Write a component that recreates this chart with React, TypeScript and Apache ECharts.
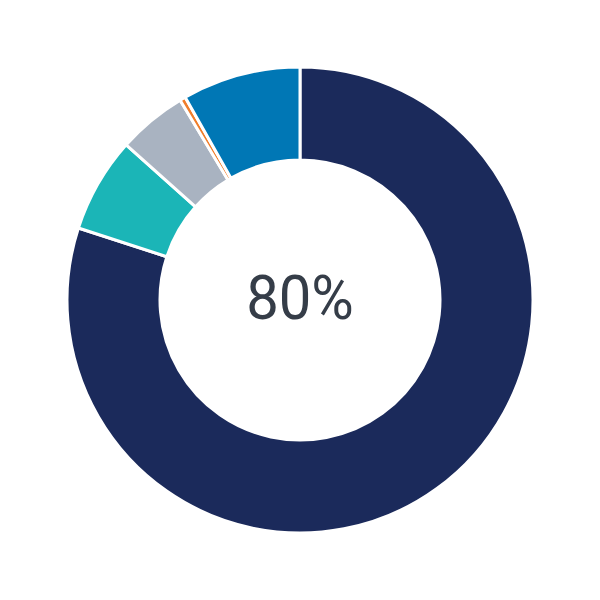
import React, { useEffect, useRef } from "react";
import * as echarts from "echarts";

const categories = ["Navy", "Teal", "Gray", "Orange", "Blue"];
const values = [80, 6.6, 4.8, 0.4, 8.2];
const colors = ["#1b2a5b", "#1bb5b7", "#a9b3c1", "#f07d2a", "#0077b5"];
const centerLabel = "80%";

export default function App() {
  const ref = useRef<HTMLDivElement>(null);
  useEffect(() => {
    if (!ref.current) return;
    const chart = echarts.init(ref.current, undefined, { renderer: "svg" });
    chart.setOption({
      animation: false,
      backgroundColor: "#ffffff",
      graphic: [
        {
          type: "text",
          x: 300,
          y: 298,
          scaleY: 1.06,
          style: {
            text: centerLabel,
            fontFamily: "Roboto",
            fontWeight: 400,
            fontSize: 58,
            fill: "#353d48",
            textAlign: "center",
            textVerticalAlign: "middle",
          },
        },
      ],
      series: [
        {
          type: "pie",
          center: [300, 300],
          radius: [140, 233],
          startAngle: 90,
          clockwise: true,
          label: { show: false },
          labelLine: { show: false },
          itemStyle: { borderColor: "#ffffff", borderWidth: 3 },
          emphasis: { disabled: true },
          data: categories.map((c, i) => ({
            name: c,
            value: values[i],
            itemStyle: { color: colors[i] },
          })),
        },
      ],
    });
    return () => chart.dispose();
  }, []);
  return (
    <div
      ref={ref}
      style={{ position: "absolute", left: 0, top: 0, width: 600, height: 600 }}
    />
  );
}
